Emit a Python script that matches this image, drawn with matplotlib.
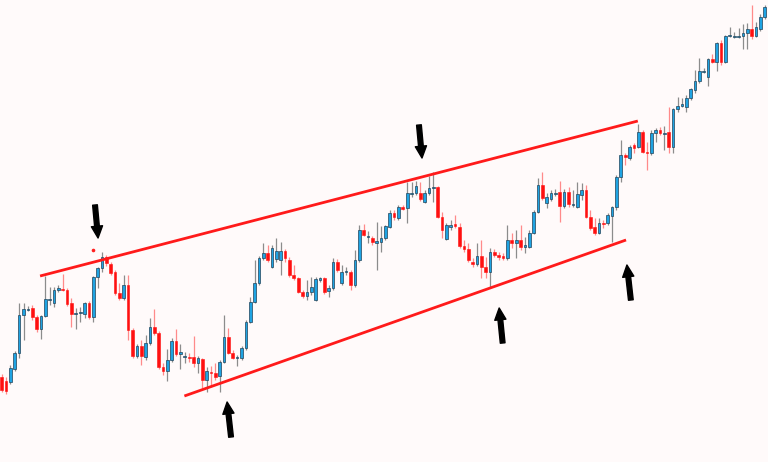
import matplotlib
matplotlib.use("Agg")
import matplotlib.pyplot as plt
import numpy as np

# OHLC price data (arbitrary price units)
opens = [85, 81, 80, 93, 109, 147, 152.5, 154, 145, 133, 146, 162.5, 159, 172, 173, 172, 159, 148.5, 149, 148,
         159, 145, 185, 194, 205, 198, 190, 169, 164, 177, 132, 106, 116, 105, 119, 135, 129, 95, 91, 102,
         121, 108, 105, 105, 105, 99, 103, 82, 90.5, 89, 86, 100, 125, 109, 104, 104, 114, 140, 160, 179,
         204, 209, 195, 203, 202, 211, 202, 187, 184, 170, 166, 170, 162, 182, 184, 171, 174, 200, 179, 190,
         190, 177, 202, 232, 225, 224, 219.5, 220, 224, 235, 249, 244, 255, 254, 268.5, 269, 269, 260, 269, 274.5,
         275, 245, 223, 235, 238, 235, 216, 213, 200, 198, 206, 195, 190, 210, 207, 206, 204, 222, 219, 222,
         215, 215, 229, 250, 277, 259, 263, 268.5, 270, 256, 270, 257.5, 255, 267, 272, 245, 235, 229, 239, 239,
         246, 255, 285, 307, 304, 317, 315, 330, 310, 309, 329, 332, 328.5, 330, 315, 353, 356, 355, 364, 372,
         381, 390, 385, 403, 400, 419, 400, 426.5, 425.5, 425.5, 426, 429, 433, 426, 433, 445]
closes = [72, 71, 94, 109, 147, 153, 153, 145, 133, 146, 163, 163, 172, 174, 172, 158, 148, 149, 149.5, 159,
          145, 185, 194, 205, 199, 189, 169, 164, 177, 132, 106, 116, 106, 119, 135, 129, 95, 91, 102, 121,
          108, 110, 105.5, 104, 99, 104, 82, 91, 89, 85, 100, 125, 109, 104, 104.5, 114, 140, 160, 179, 204,
          209, 202, 214, 211, 211, 204, 187, 184, 170, 166, 170, 175, 183, 184, 170, 174, 200, 192, 190, 190.5,
          177, 202, 232, 227, 225.5, 220, 221, 224, 236, 249, 245, 255, 253, 269, 269, 276, 263, 269, 274, 275,
          245, 232, 237, 237, 236, 216, 213, 202, 198, 206, 195, 190, 210, 207, 205, 204, 222, 219, 222, 215,
          217, 229, 250, 277, 264, 265, 269, 269, 256, 270, 258, 258, 268, 272, 245, 234, 229, 239, 238, 247,
          255, 285, 307, 305, 315, 314, 330, 310, 309, 329, 332, 329, 329, 315, 353, 356, 358, 364, 373, 381,
          391, 391, 403, 400, 419, 400, 426, 427, 426, 426, 429, 433, 426, 435, 445, 455]
highs = [88, 85, 97, 111, 159, 159, 156, 157, 147, 147, 186, 175, 175, 177, 188, 174, 164, 154, 155, 160,
         161, 186, 195, 210, 207, 200, 192, 179, 187, 187, 134, 118, 122, 127, 144, 153, 131, 99, 113, 124,
         133, 118, 110, 109, 126, 106, 104, 95, 96, 99, 102, 147, 134, 112, 107, 116, 142, 165, 202, 206,
         219, 217, 217, 224, 220, 213, 205, 197, 185, 172, 182, 185, 185, 185, 185, 177, 204, 203, 197, 195,
         192, 212, 237, 238, 231, 226, 240, 236, 237, 252, 252, 257, 257, 280, 280, 281, 280, 272, 286, 290,
         276, 250, 239, 242, 247, 239, 222, 219, 204, 219, 222, 205, 214, 213, 210, 209, 237, 229, 232, 237,
         225, 232, 252, 284, 290, 269, 272, 273, 281, 273, 275, 272, 280, 279, 277, 252, 244, 244, 242, 249,
         256, 287, 322, 309, 317, 319, 338, 332, 320, 332, 334, 335, 336, 355, 354, 365, 364, 367, 374, 392,
         404, 394, 404, 408, 420, 422, 427, 435, 430, 434, 438, 439, 457, 440, 448, 457]
lows = [70, 68, 78, 91, 104, 122, 151, 142, 130, 123, 145, 157, 155, 170, 171, 156, 135, 133, 140, 144,
        143, 140, 174, 190, 196, 187, 167, 162, 162, 122, 104, 104, 97, 102, 117, 127, 93, 87, 81, 100,
        106, 93, 99, 100, 95, 89, 74, 70, 75, 82, 70, 99, 108, 103, 96, 102, 112, 139, 159, 177,
        202, 200, 194, 200, 187, 200, 185, 182, 169, 164, 162, 167, 161, 180, 168, 165, 172, 190, 177, 187,
        172, 175, 200, 226, 219, 217, 192, 210, 222, 234, 242, 242, 252, 239, 265, 267, 261, 259, 267, 260,
        244, 224, 222, 232, 234, 214, 210, 200, 195, 196, 184, 184, 174, 205, 202, 202, 202, 214, 204, 212,
        209, 214, 228, 249, 262, 254, 261, 266, 240, 254, 255, 255, 254, 262, 244, 232, 227, 228, 234, 237,
        220, 252, 280, 297, 302, 309, 314, 309, 292, 307, 320, 327, 312, 309, 309, 350, 355, 350, 362, 369,
        379, 389, 376, 399, 391, 397, 399, 425, 424, 424, 413, 413, 423, 425, 431, 443]

# Channel trendlines: (candle index, price)
upper_line_x = [8.8, 145.9]
upper_line_y = [186, 341]
lower_line_x = [41.9, 143.2]
lower_line_y = [66, 222]

# Arrows: (tail, tip)
arrows = [((21.4, 257), (22.1, 224)),
          ((95.7, 337), (96.4, 304)),
          ((52.6, 25), (51.7, 60)),
          ((114.9, 119), (114.1, 154)),
          ((144.3, 162), (143.4, 197))]

BG = '#fffafa'
BLUE = '#1fa3e2'
BLUE_EDGE = '#22445a'
RED = '#ff1010'
WICK_UP = '#8c8c8c'
WICK_DN = '#ff8a8a'

fig = plt.figure(figsize=(7.68, 4.62), dpi=100, facecolor=BG)
ax = fig.add_axes([0, 0, 1, 1], facecolor=BG)

n = len(opens)
x = np.arange(n)
o = np.array(opens, float)
c = np.array(closes, float)
h = np.array(highs, float)
l = np.array(lows, float)
up = c >= o

ax.vlines(x[up], l[up], h[up], color=WICK_UP, lw=0.9, zorder=2)
ax.vlines(x[~up], l[~up], h[~up], color=WICK_DN, lw=0.9, zorder=2)

bw = 0.62
bottom = np.minimum(o, c)
height = np.maximum(np.abs(c - o), 0.8)
ax.bar(x[up], height[up], bottom=bottom[up], width=bw, color=BLUE,
       edgecolor=BLUE_EDGE, linewidth=0.5, zorder=3)
ax.bar(x[~up], height[~up], bottom=bottom[~up], width=bw, color=RED,
       edgecolor=RED, linewidth=0.4, zorder=3)

ax.plot(upper_line_x, upper_line_y, color='#ff1a1a', lw=2.0, zorder=4, solid_capstyle='butt')
ax.plot(lower_line_x, lower_line_y, color='#ff1a1a', lw=2.0, zorder=4, solid_capstyle='butt')

ax.plot([21.0], [212], marker='o', ms=1.6, color='#ff2020', zorder=4)

for tail, tip in arrows:
    ax.annotate('', xy=tip, xytext=tail,
                arrowprops=dict(arrowstyle='simple,head_length=1.0,head_width=0.95,tail_width=0.4',
                                mutation_scale=8.5, color='black', shrinkA=0, shrinkB=0),
                zorder=5)

ax.set_xlim(-1.7 / 4.36, (768 - 1.7) / 4.36)
ax.set_ylim(0, 462)
ax.axis('off')

fig.savefig('out.png', dpi=100, facecolor=BG)
